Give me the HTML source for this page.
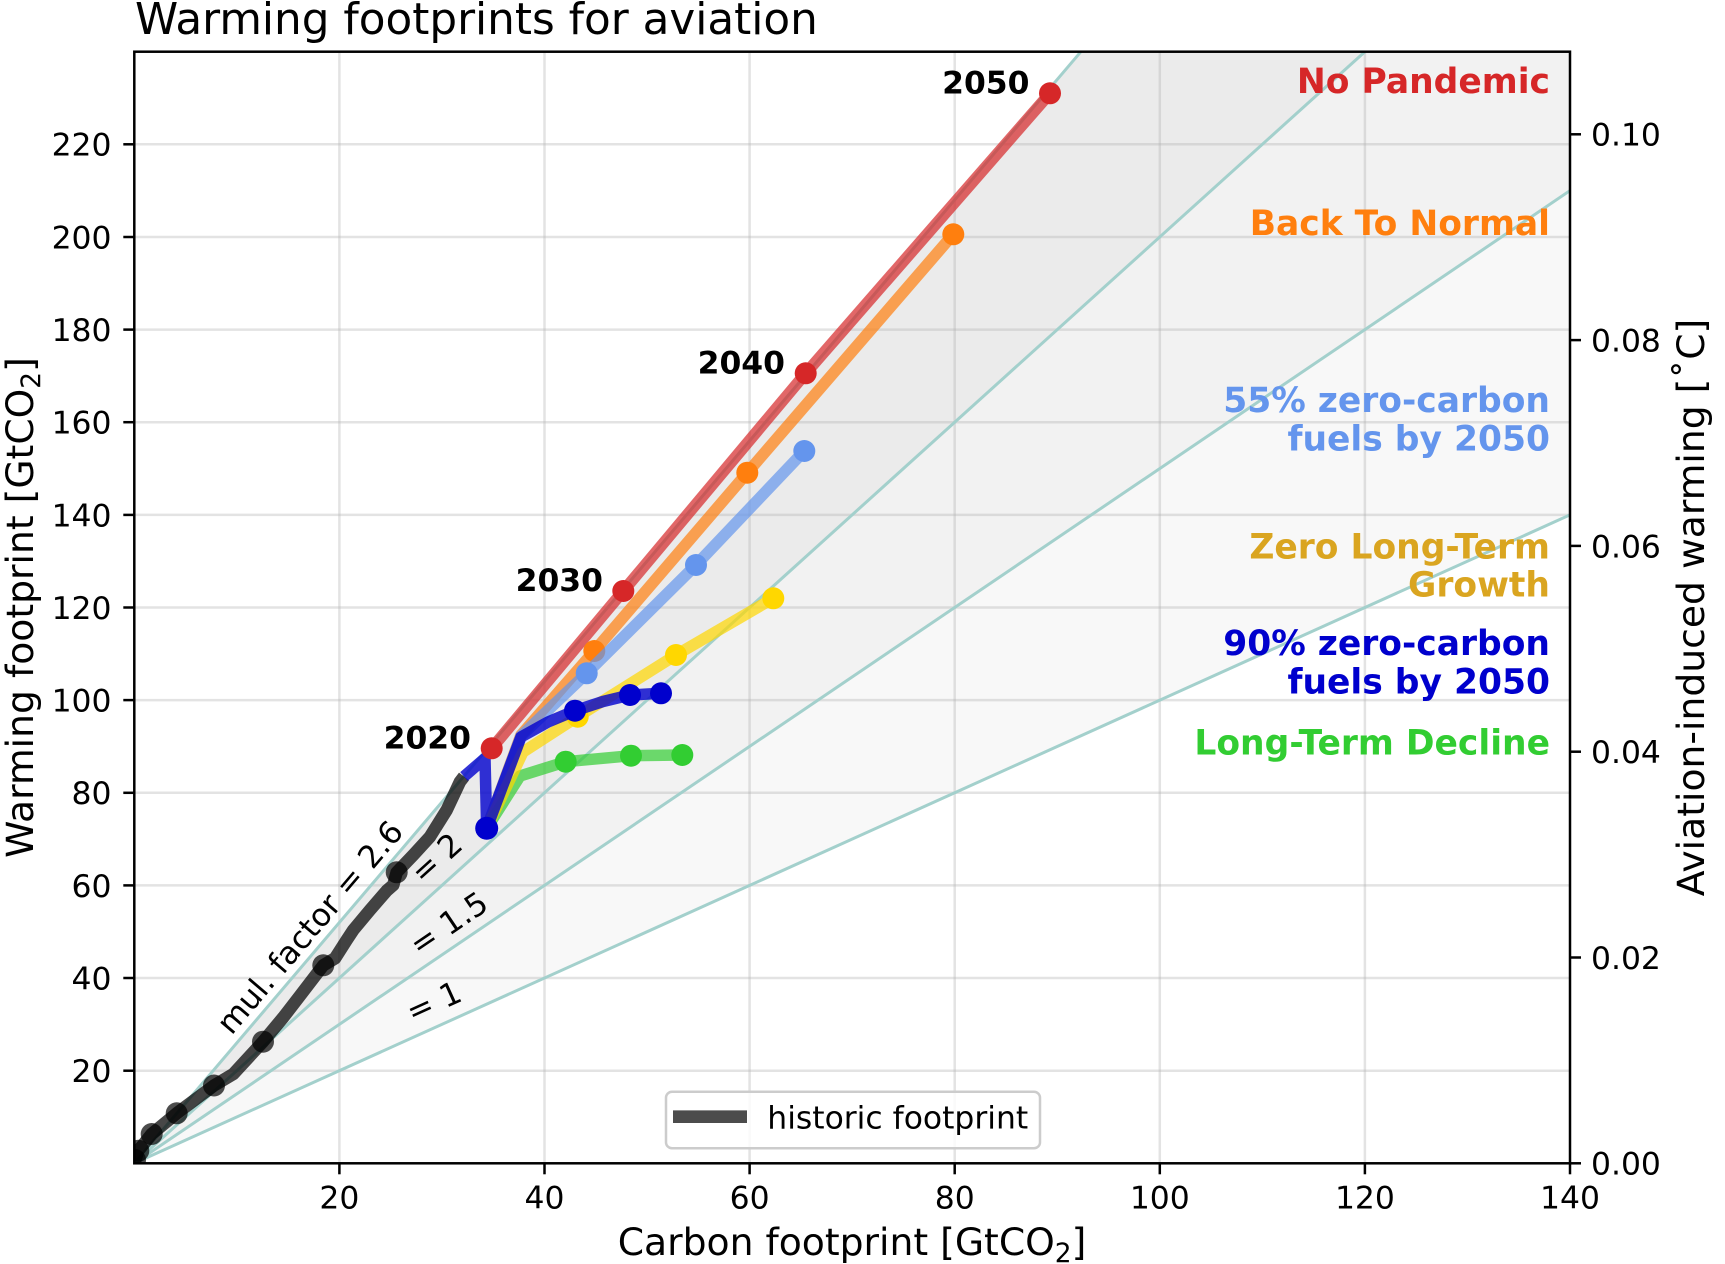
<!DOCTYPE html>
<html>
<head>
<meta charset="utf-8">
<style>
html,body{margin:0;padding:0;background:#fff;}
svg{display:block;}
</style>
</head>
<body>
<svg width="1725" height="1264" viewBox="0 0 1725 1264" xmlns="http://www.w3.org/2000/svg" font-family="'DejaVu Sans','Liberation Sans',sans-serif">
<defs>
<clipPath id="ax"><rect x="134.3" y="51.7" width="1435.7" height="1111.6"/></clipPath>
</defs>
<rect x="0" y="0" width="1725" height="1264" fill="#fff"/>

<!-- title -->
<text x="135" y="34" font-size="43.7" fill="#000">Warming footprints for aviation</text>

<g clip-path="url(#ax)">
  <!-- fan fills -->
  <polygon points="134.3,1163.3 1080.9,51.7 1364.9,51.7" fill="#ebebeb"/>
  <polygon points="134.3,1163.3 1364.9,51.7 1570,51.7 1570,190.6" fill="#f2f2f2"/>
  <polygon points="134.3,1163.3 1570,190.6 1570,514.9" fill="#f8f8f8"/>

  <!-- grid -->
  <g stroke="#b0b0b0" stroke-opacity="0.35" stroke-width="2.5">
    <line x1="339.4" y1="51.7" x2="339.4" y2="1163.3"/>
    <line x1="544.5" y1="51.7" x2="544.5" y2="1163.3"/>
    <line x1="749.6" y1="51.7" x2="749.6" y2="1163.3"/>
    <line x1="954.7" y1="51.7" x2="954.7" y2="1163.3"/>
    <line x1="1159.8" y1="51.7" x2="1159.8" y2="1163.3"/>
    <line x1="1364.9" y1="51.7" x2="1364.9" y2="1163.3"/>
    <line x1="134.3" y1="1070.7" x2="1570" y2="1070.7"/>
    <line x1="134.3" y1="978.0" x2="1570" y2="978.0"/>
    <line x1="134.3" y1="885.4" x2="1570" y2="885.4"/>
    <line x1="134.3" y1="792.8" x2="1570" y2="792.8"/>
    <line x1="134.3" y1="700.1" x2="1570" y2="700.1"/>
    <line x1="134.3" y1="607.5" x2="1570" y2="607.5"/>
    <line x1="134.3" y1="514.9" x2="1570" y2="514.9"/>
    <line x1="134.3" y1="422.2" x2="1570" y2="422.2"/>
    <line x1="134.3" y1="329.6" x2="1570" y2="329.6"/>
    <line x1="134.3" y1="237.0" x2="1570" y2="237.0"/>
    <line x1="134.3" y1="144.3" x2="1570" y2="144.3"/>
  </g>

  <!-- fan lines -->
  <g stroke="#a3d0cc" stroke-width="3">
    <line x1="134.3" y1="1163.3" x2="1080.9" y2="51.7"/>
    <line x1="134.3" y1="1163.3" x2="1364.9" y2="51.7"/>
    <line x1="134.3" y1="1163.3" x2="1570" y2="190.6"/>
    <line x1="134.3" y1="1163.3" x2="1570" y2="514.9"/>
  </g>

  <!-- fan labels -->
  <g font-size="31.4" fill="#000">
    <text transform="translate(231.5,1036) rotate(-49.58)">mul. factor = 2.6</text>
    <text transform="translate(422.7,885) rotate(-42.09)">= 2</text>
    <text transform="translate(419,956.7) rotate(-34.11)">= 1.5</text>
    <text transform="translate(412.5,1023.3) rotate(-24.31)">= 1</text>
  </g>

  <!-- historic -->
  <path d="M134.3,1163.3 L138.3,1150.7 L151.7,1134 L176.7,1113.3 L214,1085.5 L233.3,1074 L263,1041.7 L283.3,1017.3 L300,995.7 L323.3,965.3 L335,958.3 L346.7,940 L353.3,930 L370,910 L386.7,890.7 L393.3,885 L396.7,872.3 L413.3,855 L430,836.7 L446.7,810 L460,781.7 L464,776.5" fill="none" stroke="#000" stroke-opacity="0.72" stroke-width="12.6" stroke-linejoin="round" stroke-linecap="butt"/>
  <g fill="#000" fill-opacity="0.7">
    <circle cx="135" cy="1160" r="11"/>
    <circle cx="138.3" cy="1150.7" r="11"/>
    <circle cx="151.7" cy="1134" r="11"/>
    <circle cx="176.7" cy="1113.3" r="11"/>
    <circle cx="214" cy="1085.5" r="11"/>
    <circle cx="263" cy="1041.7" r="11"/>
    <circle cx="323.3" cy="965.3" r="11"/>
    <circle cx="396.7" cy="872.3" r="11"/>
  </g>

  <!-- No Pandemic (red) -->
  <path d="M491.7,748.3 L623.3,591 L805.7,373.3 L1050,93.3" fill="none" stroke="#d62728" stroke-opacity="0.7" stroke-width="11.5" stroke-linejoin="round"/>

  <!-- Back To Normal (orange) -->
  <path d="M486.7,828.3 L521,735 L594.3,651 L747.3,472.7 L953.3,234.3" fill="none" stroke="#ff7f0e" stroke-opacity="0.7" stroke-width="11.5" stroke-linejoin="round"/>
  <g fill="#ff7f0e">
    <circle cx="594.3" cy="651" r="11"/>
    <circle cx="747.3" cy="472.7" r="11"/>
    <circle cx="953.3" cy="234.3" r="11"/>
  </g>

  <!-- 55% (light blue) -->
  <path d="M486.7,828.3 L521,736 L586.7,673.3 L696,565 L804.3,451" fill="none" stroke="#6495ed" stroke-opacity="0.7" stroke-width="11.5" stroke-linejoin="round"/>
  <g fill="#6495ed">
    <circle cx="586.7" cy="673.3" r="11"/>
    <circle cx="696" cy="565" r="11"/>
    <circle cx="804.3" cy="451" r="11"/>
  </g>

  <!-- Long-Term Decline (green) -->
  <path d="M486.7,828.3 L520,776 L565.7,761.7 L631,755.7 L682.3,755" fill="none" stroke="#32cd32" stroke-opacity="0.7" stroke-width="11.5" stroke-linejoin="round"/>
  <g fill="#32cd32">
    <circle cx="565.7" cy="761.7" r="11"/>
    <circle cx="631" cy="755.7" r="11"/>
    <circle cx="682.3" cy="755" r="11"/>
  </g>

  <!-- Zero Long-Term Growth (gold) -->
  <path d="M486.7,828.3 L523,752 L577.7,716.7 L676,655 L773.3,598.3" fill="none" stroke="#ffd700" stroke-opacity="0.7" stroke-width="11.5" stroke-linejoin="round"/>
  <g fill="#ffd700">
    <circle cx="577.7" cy="716.7" r="11"/>
    <circle cx="676" cy="655" r="11"/>
    <circle cx="773.3" cy="598.3" r="11"/>
  </g>

  <!-- 90% (dark blue) -->
  <path d="M464,776.5 L485,758.3 L486.7,828.3 L521,737 L548,722 L575,710.7 L603,701.5 L630,695 L661,693.3" fill="none" stroke="#0000cd" stroke-opacity="0.8" stroke-width="11.5" stroke-linejoin="round"/>
  <g fill="#0000cd">
    <circle cx="486.7" cy="828.3" r="11.5"/>
    <circle cx="575" cy="710.7" r="11"/>
    <circle cx="630" cy="695" r="11"/>
    <circle cx="661" cy="693.3" r="11"/>
  </g>

  <!-- red markers on top -->
  <g fill="#d62728">
    <circle cx="491.7" cy="748.3" r="11"/>
    <circle cx="623.3" cy="591" r="11"/>
    <circle cx="805.7" cy="373.3" r="11"/>
    <circle cx="1050" cy="93.3" r="11"/>
  </g>

  <!-- year labels -->
  <g font-size="31.4" font-weight="bold" fill="#000" text-anchor="end">
    <text x="471" y="748.3">2020</text>
    <text x="603" y="591">2030</text>
    <text x="785" y="373.3">2040</text>
    <text x="1029.5" y="93.3">2050</text>
  </g>

  <!-- scenario labels -->
  <g font-size="34.5" font-weight="bold" text-anchor="end">
    <text x="1550" y="93" fill="#d62728">No Pandemic</text>
    <text x="1550" y="235" fill="#ff7f0e">Back To Normal</text>
    <text x="1550" y="412" fill="#6495ed">55% zero-carbon</text>
    <text x="1550" y="450.3" fill="#6495ed">fuels by 2050</text>
    <text x="1550" y="558.3" fill="#daa520">Zero Long-Term</text>
    <text x="1550" y="596.7" fill="#daa520">Growth</text>
    <text x="1550" y="655" fill="#0000cd">90% zero-carbon</text>
    <text x="1550" y="693.3" fill="#0000cd">fuels by 2050</text>
    <text x="1550" y="754.3" fill="#32cd32">Long-Term Decline</text>
  </g>

  <!-- legend -->
  <rect x="666" y="1091.7" width="374" height="56.6" rx="6" ry="6" fill="#fff" fill-opacity="0.8" stroke="#cccccc" stroke-width="2.5"/>
  <line x1="673" y1="1116.7" x2="747" y2="1116.7" stroke="#000" stroke-opacity="0.7" stroke-width="12.6"/>
  <text x="767.3" y="1128.3" font-size="31.4" fill="#000">historic footprint</text>
</g>

<!-- spines -->
<rect x="134.3" y="51.7" width="1435.7" height="1111.6" fill="none" stroke="#000" stroke-width="2.5"/>

<!-- ticks -->
<g stroke="#000" stroke-width="2.5">
  <line x1="339.4" y1="1163.3" x2="339.4" y2="1174.3"/>
  <line x1="544.5" y1="1163.3" x2="544.5" y2="1174.3"/>
  <line x1="749.6" y1="1163.3" x2="749.6" y2="1174.3"/>
  <line x1="954.7" y1="1163.3" x2="954.7" y2="1174.3"/>
  <line x1="1159.8" y1="1163.3" x2="1159.8" y2="1174.3"/>
  <line x1="1364.9" y1="1163.3" x2="1364.9" y2="1174.3"/>
  <line x1="1570" y1="1163.3" x2="1570" y2="1174.3"/>
  <line x1="123.3" y1="1070.7" x2="134.3" y2="1070.7"/>
  <line x1="123.3" y1="978.0" x2="134.3" y2="978.0"/>
  <line x1="123.3" y1="885.4" x2="134.3" y2="885.4"/>
  <line x1="123.3" y1="792.8" x2="134.3" y2="792.8"/>
  <line x1="123.3" y1="700.1" x2="134.3" y2="700.1"/>
  <line x1="123.3" y1="607.5" x2="134.3" y2="607.5"/>
  <line x1="123.3" y1="514.9" x2="134.3" y2="514.9"/>
  <line x1="123.3" y1="422.2" x2="134.3" y2="422.2"/>
  <line x1="123.3" y1="329.6" x2="134.3" y2="329.6"/>
  <line x1="123.3" y1="237.0" x2="134.3" y2="237.0"/>
  <line x1="123.3" y1="144.3" x2="134.3" y2="144.3"/>
  <line x1="1570" y1="1163.3" x2="1581" y2="1163.3"/>
  <line x1="1570" y1="957.5" x2="1581" y2="957.5"/>
  <line x1="1570" y1="751.7" x2="1581" y2="751.7"/>
  <line x1="1570" y1="545.9" x2="1581" y2="545.9"/>
  <line x1="1570" y1="340.1" x2="1581" y2="340.1"/>
  <line x1="1570" y1="134.3" x2="1581" y2="134.3"/>
</g>

<!-- tick labels -->
<g font-size="31.4" fill="#000">
  <g text-anchor="middle">
    <text x="339.4" y="1208.3">20</text>
    <text x="544.5" y="1208.3">40</text>
    <text x="749.6" y="1208.3">60</text>
    <text x="954.7" y="1208.3">80</text>
    <text x="1159.8" y="1208.3">100</text>
    <text x="1364.9" y="1208.3">120</text>
    <text x="1570" y="1208.3">140</text>
  </g>
  <g text-anchor="end">
    <text x="111.5" y="1082.1">20</text>
    <text x="111.5" y="989.4">40</text>
    <text x="111.5" y="896.8">60</text>
    <text x="111.5" y="804.2">80</text>
    <text x="111.5" y="711.5">100</text>
    <text x="111.5" y="618.9">120</text>
    <text x="111.5" y="526.3">140</text>
    <text x="111.5" y="433.6">160</text>
    <text x="111.5" y="341.0">180</text>
    <text x="111.5" y="248.4">200</text>
    <text x="111.5" y="155.7">220</text>
  </g>
  <g text-anchor="start">
    <text x="1591" y="1174.7">0.00</text>
    <text x="1591" y="968.9">0.02</text>
    <text x="1591" y="763.1">0.04</text>
    <text x="1591" y="557.3">0.06</text>
    <text x="1591" y="351.5">0.08</text>
    <text x="1591" y="145.7">0.10</text>
  </g>
</g>

<!-- axis labels -->
<text x="852" y="1255" font-size="37.7" text-anchor="middle" fill="#000">Carbon footprint [GtCO<tspan font-size="26.4" dy="7">2</tspan><tspan dy="-7">]</tspan></text>
<text transform="translate(33,607.5) rotate(-90)" font-size="37.7" text-anchor="middle" fill="#000">Warming footprint [GtCO<tspan font-size="26.4" dy="7">2</tspan><tspan dy="-7">]</tspan></text>
<text transform="translate(1704,607.5) rotate(-90)" font-size="37.7" text-anchor="middle" fill="#000">Aviation-induced warming [˚C]</text>
</svg>
</body>
</html>
